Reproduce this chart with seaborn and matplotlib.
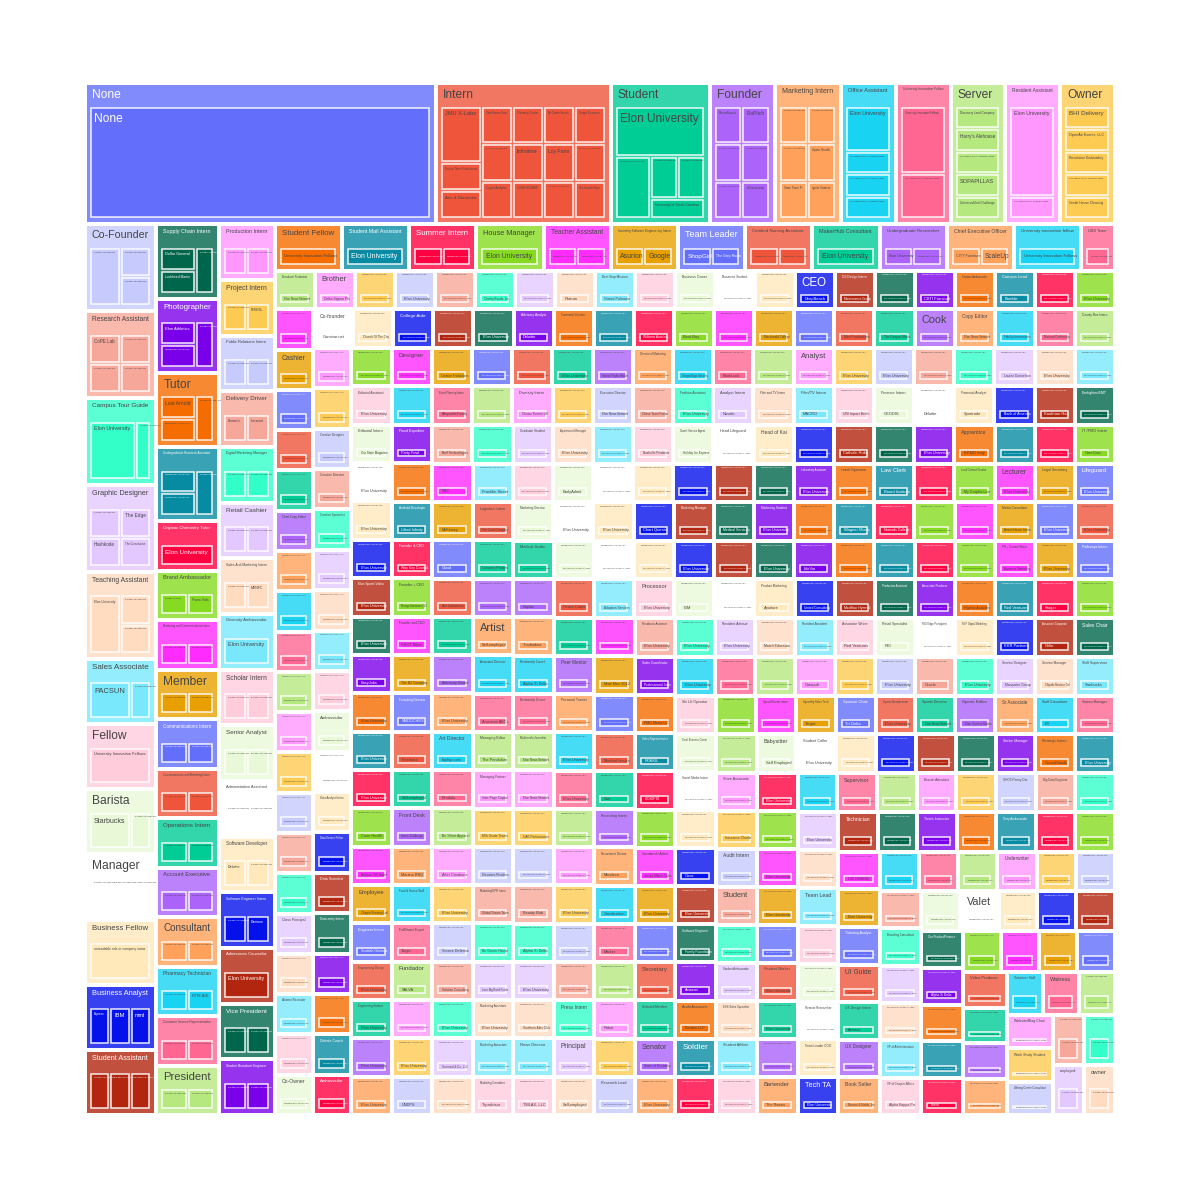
import matplotlib
matplotlib.use("Agg")
import matplotlib.pyplot as plt
from matplotlib.patches import Rectangle
import seaborn as sns

# labels too small to read in the reference
U = "unreadable role or company name"
X = (U, U)
EU = "Elon University"
ENN = "Elon News Network"

base_colors = ["#636EFA", "#EF553B", "#00CC96", "#AB63FA", "#FFA15A", "#19D3F3", "#FF6692", "#B6E880", "#FF97FF", "#FECB52"]
light_colors = ["#C6CAFD", "#F7A799", "#33FFC9", "#E3C8FF", "#FFDBC0", "#79E8FC", "#FFCCDC", "#E9F9D8", "#FFFFFF", "#FFE9BB"]
dark_colors = ["#0511EB", "#B2250E", "#00664B", "#7A00EA", "#F56C00", "#078BA3", "#FF0040", "#86DB22", "#FF2BFF", "#E8A000"]

big_roles = [
    ("None", [("None", 32)]),
    ("Intern", [("JMU X-Labs", 2), ("Enviro Time Productions", 1), ("Arts 4 Dementia", 1), ("Cale Homes Trust", 1), (U, 1), ("Cogent Analytics", 1), ("Citizenry Center", 1), ("Air Charter Service", 1), ("Europe Excursions", 1), ("Infinitive", 1), ("CUSH SCIMINP", 1), ("Loy Farm", 1), (U, 1), (U, 1), ("The Launch Place", 1)]),
    ("Student", [(EU, 4), (U, 2), (U, 1), (U, 1), ("University of South Carolina", 1)]),
    ("Founder", [("ElevatSports", 1), ("EloPitch", 1), (U, 1), (U, 1), (U, 1), ("eDiscovery", 1)]),
    ("Marketing Intern", [(U, 1), (U, 1), (U, 1), ("Spine Health", 1), ("State Farm Fi", 1), ("Ignite Student", 1)]),
    ("Office Assistant", [(EU, 2), (U, 1), (U, 1), (U, 1)]),
    ("University Innovation Fellow", [("University Innovation Fellows", 3), (U, 2)]),
    ("Server", [("Discovery Land Company", 1), ("Harry's Alehouse", 1), (U, 1), ("SOPAPILLAS", 1), ("UniversalUnit Challenge", 1)]),
    ("Resident Assistant", [(EU, 4), (U, 1)]),
    ("Owner", [("BHI Delivery", 1), ("OpenAir Events, LLC", 1), ("Revolution Embroidery", 1), (U, 1), ("Venile House Cleaning", 1)]),
    ("Co-Founder", [(U, 2), (U, 1), (U, 1)]),
    ("Research Assistant", [("CoPE Lab", 1), (U, 1), (U, 1), (U, 1)]),
    ("Campus Tour Guide", [(EU, 3), (U, 1)]),
    ("Graphic Designer", [(U, 1), ("Hashkode", 1), ("The Edge", 1), ("The Greenhouse", 1)]),
    ("Teaching Assistant", [(EU, 2), (U, 1), (U, 1)]),
    ("Sales Associate", [("PACSUN", 2), (U, 1)]),
    ("Fellow", [("University Innovation Fellows", 3)]),
    ("Barista", [("Starbucks", 2), (U, 1)]),
    ("Manager", [(U, 1), (U, 1), (U, 1)]),
    ("Business Fellow", [(U, 3)]),
    ("Business Analyst", [("Express", 1), ("IBM", 1), ("mml", 1)]),
    ("Student Assistant", [(U, 1), (U, 1), (U, 1)]),
    ("Supply Chain Intern", [("Dollar General", 1), ("Lockheed Martin", 1), (U, 1)]),
    ("Photographer", [("Elon Athletics", 1), (U, 1), (U, 1)]),
    ("Tutor", [("Lost Arnold", 1), (U, 1), (U, 1)]),
    ("Undergraduate Research Assistant", [(U, 1), (U, 1), (U, 1)]),
    ("Organic Chemistry Tutor", [(EU, 2)]),
    ("Brand Ambassador", [("Gallipoli Foods", 1), ("Puma Vida", 1)]),
    ("Marketing and Communications Intern", [(U, 1), (U, 1)]),
    ("Member", [(U, 1), (U, 1)]),
    ("Communications Intern", [(U, 1), (U, 1)]),
    ("Communications and Marketing Intern", [(U, 1), (U, 1)]),
    ("Operations Intern", [(U, 1), (U, 1)]),
    ("Account Executive", [(U, 1), (U, 1)]),
    ("Consultant", [(U, 1), (U, 1)]),
    ("Pharmacy Technician", [(U, 1), ("RITE AID", 1)]),
    ("Customer Service Representative", [(U, 1), (U, 1)]),
    ("President", [(U, 1), (U, 1)]),
    ("Production Intern", [(U, 1), (U, 1)]),
    ("Project Intern", [(U, 1), ("PERIOD+", 1)]),
    ("Public Relations Intern", [(U, 1), (U, 1)]),
    ("Delivery Driver", [("Domino's", 1), ("Instacart", 1)]),
    ("Digital Marketing Manager", [(U, 1), (U, 1)]),
    ("Retail Cashier", [(U, 1), (U, 1)]),
    ("Sales And Marketing Intern", [(U, 1), ("MENFC", 1)]),
    ("Diversity Ambassador", [(EU, 2)]),
    ("Scholar Intern", [(U, 1), (U, 1)]),
    ("Senior Analyst", [(U, 1), (U, 1)]),
    ("Administrative Assistant", [(U, 1), (U, 1)]),
    ("Software Developer", [("Deloitte", 1), (U, 1)]),
    ("Software Engineer Intern", [(U, 1), ("Daemon", 1)]),
    ("Admissions Counselor", [(EU, 2)]),
    ("Vice President", [(U, 1), (U, 1)]),
    ("Student Broadcast Engineer", [(U, 1), (U, 1)]),
    ("Student Fellow", [("University Innovation Fellows", 2)]),
    ("Student Mail Assistant", [(EU, 2)]),
    ("Summer Intern", [(U, 1), (U, 1)]),
    ("House Manager", [(EU, 2)]),
    ("Teacher Assistant", [(U, 1), (U, 1)]),
    ("Incoming Software Engineering Intern", [("Asurion", 1), ("Google", 1)]),
    ("Team Leader", [("ShopGirl", 1), ("The Grey Room", 1)]),
    ("Certified Nursing Assistant", [(U, 1), (U, 1)]),
    ("MakerHub Consultant", [(EU, 2)]),
    ("Undergraduate Researcher", [(EU, 1), (U, 1)]),
    ("Chief Executive Officer", [("CITY Furniture", 1), ("ScaleUp", 1)]),
    ("University innovation fellow", [("University Innovation Fellows", 2)]),
    ("LIBS Team", [(U, 1)]),
]

# roles with one employer and value 1, as (role, employer), in value order
singles_a = [
    ("Broadcast Production", ENN), ("Brother", "Delta Sigma Phi"), X, (U, EU), X, (U, "Charity:Bonds, Inc."), X, (U, "Pratum"),
    ("Best Stop Mission", "Gianni Palmario"), X, ("Business Owner", U), ("Business Student", U), X, ("CEO", "DeepBeach"),
    ("CS Design Intern", "Maintenance Group"), X, (U, "CBTI Furniture"), ("Campus Ambassador", U), ("Campus Lead", "Bumble"), X, (U, EU),
    X, ("Cashier", U), X, X, X, ("Chief Copy Editor", U), X, X, X, X, X, X, X, X, X, ("Class Principal", U), X, ("Alumni Recruiter", U), X, ("Co-Owner", U),
    ("Co-founder", "Gaminar.net"), (U, "Church Of The City"), ("College Aide", U), X, (U, EU), ("Advisory Analyst", "Deloitte"),
    ("Community Volunteer", U), X, (U, "Williams Auto Inc."), (U, "Best Buy"), X, (U, "Macdonald College"), X, (U, "Mini Productions"),
    (U, "The Canyon Music"), ("Cook", U), ("Copy Editor", ENN), (U, "Fidelity Investments"), (U, "Natural Gathering"), ("County Box Intern", U),
    X, X, ("Creative Designer", U), ("Creative Director", U), ("Creative Specialist", U), X, X, X, X, ("Ambassador", U), X,
    ("Data Analyst Intern", U), ("Data Science Fellow", U), ("Data Scientist", U), ("Data-entry Intern", U), X, X, ("Debate Coach", U), ("Ambassador", U),
    X, ("Designer", U), (U, "Creative Productions"), X, X, (U, EU), (U, "Human Rights Watch"), ("Director of Marketing", U),
    (U, "DragonDogs Security"), (U, "BookLock"), X, ("Analyst", U), (U, EU), (U, EU), X, X, (U, "Lauren Donnelson"), (U, EU), X,
]
singles_b = [
    ("Editorial Assistant", EU), ("Editorial Intern", "Our State Magazine"), (U, EU), (U, EU), (U, EU), ("Elon Sports Video", EU), (U, EU),
    (U, "EasyJobs"), (U, EU), (U, EU), (U, EU), (U, "Cone Health"), (U, "Ashton Hill Hotel"), ("Employee", "Chapin Brewery Ltd"),
    ("Engineer Intern", "Scottish Glorious"), ("Engineering Design", EU), ("Engineering Student", EU), (U, EU), (U, EU),
    X, ("Event Planning Intern", "AdoptableFamily"), X, ("Diversity Intern", "Choice Events UK"), X, ("Executive Director", ENN),
    (U, "Chase Team Fusion"), ("Fashion Assistant", EU), ("Analyst Intern", "Nuvalo"), ("Film and TV Intern", U), ("Film/TV Intern", "MACRO"),
    (U, "UNI Impact Berlin"), ("Finance Intern", "GEODIS"), (U, "Deloitte"), ("Financial Analyst", "Sportrade"), (U, "Bank of America"),
    (U, "Kaufman Hall"), ("Firefighter/EMT", U),
    ("Flood Expediter", "Party Fowl"), X, ("Android Developer", "Lifted Infinity"), ("Founder & CEO", "Way Key Council"),
    ("Founder + CEO", "Mango Solutions LLC"), ("Founder and CEO", "SHOT Bikes"), (U, "The N2 Company"), ("Founding Director", "SMOOCHES"),
    (U, "Freelance"), (U, "Self-employed"), ("Front Desk", "Iona College"), (U, "Martina BBQ"), ("Food & House Staff", U),
    ("Fulfillment Expert", "Target"), ("Fundador", "SALVA"), X, (U, EU), (U, "UNDPS"),
    (U, "Bell Technologies"), X, ("Graduate Student", U), ("Apartment Manager", EU), X, (U, "Nashville Predators"),
    ("Guest Service Agent", "Holiday Inn Express"), ("Head Lifeguard", U), ("Head of Kai", U), X, (U, "Catholic Hubs"), X, (U, EU),
    ("Apprentice", "KPMG Italy"), X, X, ("IT /PMO Intern", "CoreCivic"),
    (U, "PNC"), (U, "McKinsey"), (U, "Cloud"), (U, "Art Initiatives"), X, (U, "Advisory Board"), (U, EU), ("Art Director", "kayfap.com"),
    (U, "Pendolo"), (U, "Be Silent Apparel"), (U, "Alter Creations"), (U, EU), (U, "Source Defense"), (U, "Solution Consulting"), (U, EU),
    (U, "Sumneal & Co., LLC"), X,
]
singles_c = [
    (U, "Franklin Street"), X, (U, "EarlyAdmit"), X, X, X, X, X, ("Laboratory Assistant", EU), ("Launch Organization", U),
    ("Law Clerk", "Broad Institute"), X, ("Lead Content Creator", "My Graphic Line"), ("Lecturer", EU), ("Legal Secretary", U), ("Lifeguard", EU),
    ("Logistics Intern", "Tim Cook Company"), (U, "Luxurex Pirates"), X, ("Artist", "Self-employed"), ("Assistant Director", U),
    (U, "American ABCs"), ("Managing Editor", "The Pendulum"), ("Managing Partner", "Inter-Page Capital"), (U, "Milk Grade Teams"),
    (U, "Elevators Rivalries"), ("Marketing/UPR Intern", "Global Dream Team"), (U, "Be Green House"), (U, "Loan Big Band Funds"),
    ("Marketing Assistant", EU), ("Marketing Associate", U), ("Marketing Consultant", "Tripadvisor"),
    ("Marketing Director", U), (U, EU), (U, EU), (U, "Chart Quests"), ("Marketing Manager", U), (U, "Medical Services"),
    ("Marketing Student", EU), X, (U, "Wagner Music"), (U, "Nomads College"), X, X, ("Media Consultant", "Avanti House Intern"), (U, EU), (U, EU),
    ("Medical Scribe", U), (U, "Kaplan"), (U, "Troubadour"), ("Membership Council", "Alpha Xi Delta"), ("Membership Director", U),
    ("Multimedia Journalist", ENN), (U, ENN), (U, "UAE Performance"), X, (U, "Beauty Bub"), (U, "Alpha Xi Delta"), (U, EU),
    (U, "Southern Ales Club"), ("News Director", U), (U, "TMLAX, LLC"),
    X, X, X, (U, EU), X, (U, EU), (U, "LifeVia"), X, X, X, X, ("PR + Content Writer", "Aquarius Marketing"), (U, EU), ("Pathways Intern", U),
    (U, "Peace Corps"), X, ("Peer Mentor", U), ("Personal Trainer", U), (U, EU), (U, EU), X, X, (U, EU), X, X, ("Press Intern", U),
    ("Principal", U), (U, "Self-employed"),
    (U, "Adoption Services"), ("Processor", EU), (U, "IBM"), X, ("Product Marketing", "Apuiture"), (U, "United Consulting"),
    (U, "MedStar Hymnal"), ("Production Assistant", U), ("Associate Producer", U), (U, "Hypnos Analytics"), (U, "Red Ventures"), (U, "Kroger"), X,
    X, (U, "Mad Men 2012"), X, (U, "Medical Issues"), (U, "Dart"), ("Recruiting Intern", U), ("Recruitment Director", "Mondeca"),
    (U, "Construction"), (U, "Market"), X, (U, "Robot"), X, ("Research Lead", U),
]
singles_d = [
    ("Residence Assistant", EU), (U, EU), ("Resident Advisor", EU), (U, "Match Education"), ("Resident Assistant", U),
    ("Associate Writer", "Red Ventures"), ("Retail Specialist", "REI"), ("RIO Edge Participant", U), ("RVP Digital Marketing", U),
    (U, "KKR Partners"), ("Associate Corporate", "Gelin"), ("Sales Chair", U),
    ("Sales Coordinator", "Professional Jobs"), (U, "PMG Media LLC"), ("Sales Representative", "ROKKIL"), (U, "BOXIFIX"), X,
    ("Sandwich Artist", "Jersey Mike's Subs"), (U, EU), X, ("Secretary", U), ("Selected Member", U), ("Senator", "State of Kentucky"), (U, EU),
    (U, EU), X, X, (U, "Catapult"), X, (U, EU), (U, "Oracle"), (U, EU), ("Service Designer", "Marquette Group"),
    ("Service Manager", "Chipotle Mexican Grill"), ("Shift Supervisor", "Starbucks"),
    ("Ski Lift Operator", U), ("Small Business Owner", U), ("Social Media Intern", U), X, (U, "Cisco"), (U, EU),
    ("Software Engineer", "Family Foundation"), (U, "Amazon"), ("Audit Associate", "Barden LLP"), ("Soldier", U), X,
    X, ("Special Events Intern", U), ("Specialty Sales Tech", "Target"), ("Sponsor Chair", "Tri Delta"), ("Sports Broadcaster", EU),
    ("Sports Director", ENN), ("Sports Editor", "Elon Sunrise Media"), ("Sr Associate", U), ("Staff Consultant", "EY"), ("Station Manager", U),
    X, ("Store Associate", U), (U, "Insurance Charlie"), ("Audit Intern", U), ("Student", U), X, ("Student Ambassador", U),
    ("ESS Sales Specialist", U), ("Student Athlete", U), X,
    ("Babysitter", "Self Employed"), ("Student Caller", EU), X, X, X, X, ("Sticker Manager", U), ("Strategic Intern", "CrossRoads"), (U, EU),
    (U, EU), X, (U, EU), (U, EU), X, ("Student Worker", EU), (U, EU), X, ("Bartender", "The Roasts"),
    X, ("Supervisor", U), X, ("Branch Attendant", U), X, ("SHOT/Penny Dar", U), ("Big Data Engineer", U), X,
    (U, EU), X, ("Team Lead", U), X, X, ("Remote Researcher", U), ("Team Leader CGO", U), ("Tech TA", EU),
    ("Technician", U), X, ("Tennis Instructor", U), X, ("Terry Ambassador", U), X, X,
    (U, "OXI DESIGN"), (U, EU), ("Ticketing Analyst", U), ("UI Guide", U), ("UX Design Intern", "Amazon"), ("UX Designer", U),
    ("Book Seller", "Barnes & Noble, Inc."),
    X, X, X, ("Underwriter", U), X, X,
    X, ("Branding Consultant", U), X, X, ("VP of Administration", U), ("VP of Chapter Affairs", "Alpha Kappa Psi"),
    X, ("Valet", U), X, X, X,
    ("Our Product/Finance", U), (U, "Alpha Xi Delta"), X, X, (U, "Bosch"),
    X, X, X, X,
    ("Video Producer", U), X, X, X,
    ("Volunteer Staff", U), ("Waitress", U), X,
    ("Website/Blog Chair", U), ("Work Study Student", U), ("Writing Center Consultant", U),
    X, X, ("employed", U), ("owner", U),
]


def node_value(role):
    return sum(v for _, v in role[1])


def squarify(values, x0, y0, x1, y1):
    # same steps as d3 treemapSquarify with ratio 1
    out = [None] * len(values)
    total = sum(values)
    i0 = i1 = 0
    n = len(values)
    while i0 < n:
        dx, dy = x1 - x0, y1 - y0
        s = values[i1]
        i1 += 1
        lo = hi = s
        alpha = max(dy / dx, dx / dy) / total
        beta = s * s * alpha
        best = max(hi / beta, beta / lo)
        while i1 < n:
            v = values[i1]
            s2 = s + v
            lo2, hi2 = min(lo, v), max(hi, v)
            beta = s2 * s2 * alpha
            r = max(hi2 / beta, beta / lo2)
            if r > best:
                break
            s, lo, hi, best = s2, lo2, hi2, r
            i1 += 1
        if dx < dy:
            y_end = y0 + dy * s / total
            k = dx / s
            x = x0
            for i in range(i0, i1):
                out[i] = (x, y0, x + values[i] * k, y_end)
                x += values[i] * k
            y0 = y_end
        else:
            x_end = x0 + dx * s / total
            k = dy / s
            y = y0
            for i in range(i0, i1):
                out[i] = (x0, y, x_end, y + values[i] * k)
                y += values[i] * k
            x0 = x_end
        total -= s
        i0 = i1
    return out


def mix_white(color, amount=0.2):
    r, g, b = matplotlib.colors.to_rgb(color)
    return (r + (1 - r) * amount, g + (1 - g) * amount, b + (1 - b) * amount)


def text_color(color):
    r, g, b = matplotlib.colors.to_rgb(color)
    return "#444444" if (299 * r + 587 * g + 114 * b) * 255 / 1000 > 128 else "#FFFFFF"


def put_label(ax, renderer, label, x, y, avail, cap, color, va="top"):
    t = ax.text(x, y, label, fontsize=10 * 0.72, color=color, va=va, ha="left", family="Liberation Sans")
    width = t.get_window_extent(renderer).width
    px = max(min(cap, 10 * avail / width), 1.0)
    t.set_fontsize(px * 0.72)
    if va == "top":
        t.set_y(y + 0.22 * px)


sns.set_theme(style="white")
plt.rcParams["font.family"] = ["Liberation Sans", "DejaVu Sans"]
palette = sns.color_palette(base_colors + light_colors + dark_colors)

fig = plt.figure(figsize=(12, 12), dpi=100)
ax = fig.add_axes([0, 0, 1, 1])
ax.set_xlim(0, 1200)
ax.set_ylim(1200, 0)
ax.axis("off")
renderer = fig.canvas.get_renderer()

PAD = 1.5
single_roles = singles_a + singles_b + singles_c + singles_d
roles = big_roles + [(role, [(emp, 1)]) for role, emp in single_roles]
tiles = squarify([node_value(r) for r in roles], 84.5, 82.5, 1114.5, 1114.5)

for i, (role, (rx0, ry0, rx1, ry1)) in enumerate(zip(roles, tiles)):
    base = palette[i % len(palette)]
    rx0, ry0, rx1, ry1 = rx0 + PAD, ry0 + PAD, rx1 - PAD, ry1 - PAD
    ax.add_patch(Rectangle((rx0, ry0), rx1 - rx0, ry1 - ry0, facecolor=mix_white(base), edgecolor="white", lw=0.7))
    ink = text_color(base)
    put_label(ax, renderer, role[0], rx0 + 6, ry0 + 2.5, rx1 - rx0 - 12, 12, ink)
    kids = squarify([v for _, v in role[1]], rx0 + 5 - PAD, ry0 + 23.5 - PAD, rx1 - 5 + PAD, ry1 - 5 + PAD)
    for (emp, _), (x0, y0, x1, y1) in zip(role[1], kids):
        x0, y0, x1, y1 = x0 + PAD, y0 + PAD, x1 - PAD, y1 - PAD
        ax.add_patch(Rectangle((x0, y0), x1 - x0, y1 - y0, facecolor=base, edgecolor=(1, 1, 1, 0.9), lw=1.1))
        if y1 - y0 < 16:
            put_label(ax, renderer, emp, x0 + 3.5, (y0 + y1) / 2, x1 - x0 - 1, 0.38 * (y1 - y0) + 1.3, ink, va="center")
        else:
            put_label(ax, renderer, emp, x0 + 3, y0 + 2.5, x1 - x0 - 7, 12, ink)

fig.savefig("out.png", dpi=100)
